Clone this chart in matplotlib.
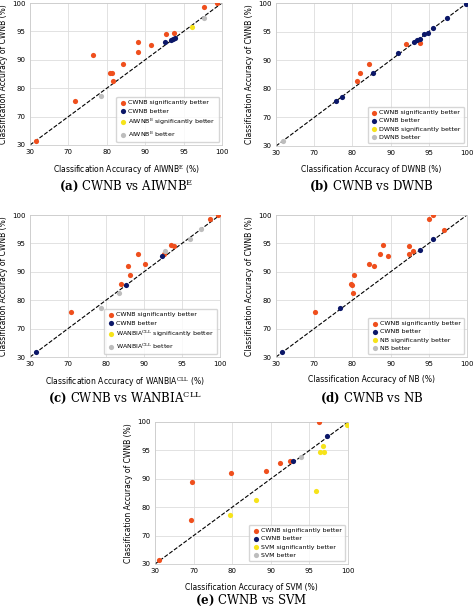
import matplotlib
matplotlib.use("Agg")
import matplotlib.pyplot as plt
import numpy as np

plt.rcParams['mathtext.fontset'] = 'dejavuserif'

TICKS = [30, 70, 80, 90, 95, 100]
TICK_POS = np.arange(len(TICKS))

COLORS = ['#ef4f1d', '#0b1768', '#f6e31a', '#bdbdbd']

# panel (a) CWNB vs AIWNB^E  -- (x accuracy, y accuracy)
a_sig_x = [36, 71.7, 76.5, 80.9, 81.3, 81.6, 84.2, 88.1, 88.1, 90.7, 92.7, 93.8, 97.6, 99.4]
a_sig_y = [35.5, 75.5, 90.9, 85.3, 85.5, 82.4, 88.6, 91.3, 93.1, 92.6, 94.6, 94.7, 99.3, 100]
a_bet_x = [92.6, 93.3, 93.6, 93.9]
a_bet_y = [93.1, 93.5, 93.6, 93.8]
a_osig_x = [96.1]
a_osig_y = [95.7]
a_obet_x = [78.6, 97.6]
a_obet_y = [77.1, 97.4]

# panel (b) CWNB vs DWNB
b_sig_x = [81.3, 82.1, 84.3, 92.0, 93.9]
b_sig_y = [82.6, 85.6, 88.7, 92.8, 93.0]
b_bet_x = [75.6, 77.3, 85.3, 91.0, 93.1, 93.5, 93.8, 94.4, 94.9, 95.5, 97.4, 99.9]
b_bet_y = [75.6, 77.2, 85.4, 91.3, 93.1, 93.5, 93.7, 94.6, 94.7, 95.6, 97.4, 99.9]
b_osig_x = []
b_osig_y = []
b_obet_x = [36.9]
b_obet_y = [37.0]

# panel (c) CWNB vs WANBIA^CLL
c_sig_x = [70.8, 83.9, 85.7, 86.4, 88.5, 90.1, 92.6, 93.6, 93.9, 98.7, 99.8]
c_sig_y = [75.7, 85.6, 91.0, 88.7, 93.1, 91.3, 93.1, 94.7, 94.6, 99.3, 100]
c_bet_x = [36.0, 85.2, 92.4]
c_bet_y = [36.4, 85.4, 92.7]
c_osig_x = []
c_osig_y = []
c_obet_x = [78.6, 83.4, 92.8, 96.1, 97.5]
c_obet_y = [77.2, 82.5, 93.6, 95.7, 97.5]

# panel (d) CWNB vs NB
d_sig_x = [70.1, 79.6, 80.0, 80.1, 80.5, 84.3, 85.6, 87.3, 87.9, 89.2, 92.4, 92.4, 92.9, 95.0, 95.6, 97.0]
d_sig_y = [75.7, 85.6, 85.4, 82.6, 88.7, 91.3, 91.0, 93.1, 94.7, 92.8, 93.1, 94.6, 93.6, 99.3, 100, 97.4]
d_bet_x = [36.6, 76.8, 93.8, 95.5]
d_bet_y = [37.0, 77.2, 93.9, 95.7]
d_osig_x = []
d_osig_y = []
d_obet_x = []
d_obet_y = []

# panel (e) CWNB vs SVM
e_sig_x = [34.5, 67.2, 68.0, 79.6, 88.7, 91.2, 92.5, 96.3]
e_sig_y = [36.0, 75.6, 88.8, 91.0, 91.3, 92.8, 93.1, 100]
e_bet_x = [92.9, 97.3]
e_bet_y = [93.1, 97.5]
e_osig_x = [79.4, 86.1, 95.8, 96.4, 96.9, 96.7, 99.9]
e_osig_y = [77.3, 82.7, 85.7, 94.7, 94.8, 95.7, 99.4]
e_obet_x = [93.9]
e_obet_y = [93.8]


def pos(v):
    return np.interp(v, TICKS, TICK_POS)


def panel(rect, name, xname, sig, bet, osig, obet, caption_y, letter, caption):
    ax = fig.add_axes(rect)
    labels = ['CWNB significantly better', 'CWNB better',
              name + ' significantly better', name + ' better']
    for (xs, ys), c, lab in zip([sig, bet, osig, obet], COLORS, labels):
        ax.scatter(pos(xs), pos(ys), s=14, color=c, label=lab, zorder=3, linewidths=0)
    ax.plot([0, 5], [0, 5], 'k--', lw=0.8, zorder=2)
    ax.set_xlim(0, 5)
    ax.set_ylim(0, 5)
    ax.set_xticks(TICK_POS)
    ax.set_yticks(TICK_POS)
    ax.set_xticklabels(TICKS)
    ax.set_yticklabels(TICKS)
    ax.tick_params(labelsize=5, length=0, pad=3)
    ax.grid(color='#dddddd', lw=0.6)
    ax.set_axisbelow(True)
    for s in ax.spines.values():
        s.set_color('#cccccc')
        s.set_linewidth(0.6)
    ax.set_xlabel('Classification Accuracy of ' + xname + ' (%)', fontsize=5.5, labelpad=6)
    ax.set_ylabel('Classification Accuracy of CWNB (%)', fontsize=5.5, labelpad=3)
    ax.legend(loc='lower right', fontsize=4.5, frameon=True, handletextpad=0.2,
              borderpad=0.5, labelspacing=0.45, markerscale=1.0, handlelength=1.2)
    cx = rect[0] + rect[2] / 2
    fig.text(cx, caption_y, r'$\mathbf{(' + letter + r')}$ ' + caption,
             ha='center', va='center', fontsize=8.5, family='DejaVu Serif')


W, H = 474, 610
fig = plt.figure(figsize=(W / 100, H / 100), dpi=100)


def r(x0, x1, y0, y1):
    return [x0 / W, 1 - y1 / H, (x1 - x0) / W, (y1 - y0) / H]


panel(r(30, 222, 3, 145), r'AIWNB$^{\mathrm{E}}$', r'AIWNB$^{\mathrm{E}}$',
      (a_sig_x, a_sig_y), (a_bet_x, a_bet_y), (a_osig_x, a_osig_y), (a_obet_x, a_obet_y),
      1 - 186 / H, 'a', r'CWNB vs AIWNB$^{\mathrm{E}}$')
panel(r(276, 467, 3, 146), 'DWNB', 'DWNB',
      (b_sig_x, b_sig_y), (b_bet_x, b_bet_y), (b_osig_x, b_osig_y), (b_obet_x, b_obet_y),
      1 - 186 / H, 'b', 'CWNB vs DWNB')
panel(r(30, 220, 215, 357), r'WANBIA$^{\mathrm{CLL}}$', r'WANBIA$^{\mathrm{CLL}}$',
      (c_sig_x, c_sig_y), (c_bet_x, c_bet_y), (c_osig_x, c_osig_y), (c_obet_x, c_obet_y),
      1 - 398 / H, 'c', r'CWNB vs WANBIA$^{\mathrm{CLL}}$')
panel(r(276, 467, 215, 357), 'NB', 'NB',
      (d_sig_x, d_sig_y), (d_bet_x, d_bet_y), (d_osig_x, d_osig_y), (d_obet_x, d_obet_y),
      1 - 398 / H, 'd', 'CWNB vs NB')
panel(r(155, 348, 422, 564), 'SVM', 'SVM',
      (e_sig_x, e_sig_y), (e_bet_x, e_bet_y), (e_osig_x, e_osig_y), (e_obet_x, e_obet_y),
      1 - 600 / H, 'e', 'CWNB vs SVM')

fig.savefig('out.png', dpi=100)
